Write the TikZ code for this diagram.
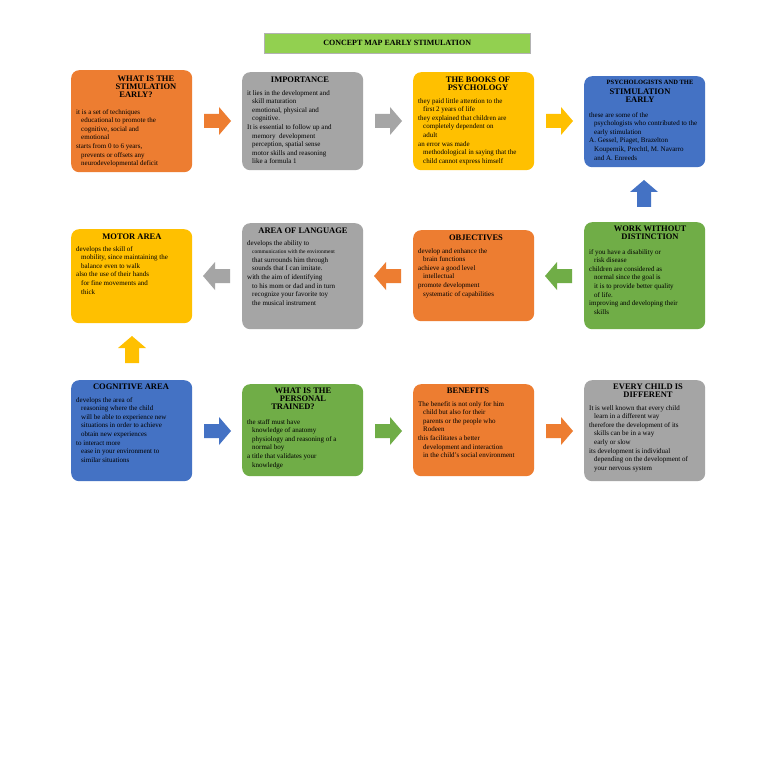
\documentclass[tikz,border=0pt]{standalone}
\usepackage{fontspec}
\setmainfont{Liberation Serif}
\definecolor{cor}{HTML}{ED7D31}
\definecolor{cgr}{HTML}{A5A5A5}
\definecolor{cye}{HTML}{FFC000}
\definecolor{cbl}{HTML}{4472C4}
\definecolor{cgn}{HTML}{70AD47}
\definecolor{ctl}{HTML}{92D050}
\newcommand\ind{\hspace*{5pt}}
\newcommand\arr[4]{\fill[#4,shift={(#1,#2)},rotate=#3] (-13,-7)--(2,-7)--(2,-14)--(14,0)--(2,14)--(2,7)--(-13,7)--cycle;}
\begin{document}
\begin{tikzpicture}[x=1pt,y=-1pt,
 box/.style={rounded corners=8pt,anchor=north west,inner sep=0pt},
 hd/.style={anchor=north,align=center,inner sep=0pt,font=\fontsize{8.5}{8}\selectfont\bfseries},
 bd/.style={anchor=north west,align=left,inner sep=0pt,font=\fontsize{7}{8.6}\selectfont}]
\useasboundingbox (0,0) rectangle (768,762);
\fill[white] (0,0) rectangle (768,762);
\node[fill=ctl,draw=gray!60,anchor=north west,minimum width=266pt,minimum height=20pt,inner sep=0pt] (title) at (264,33) {};
\node[font=\fontsize{8}{9}\selectfont\bfseries] at (title) {CONCEPT MAP EARLY STIMULATION};
% row 1
\node[box,fill=cor,minimum width=121pt,minimum height=102pt] (b1) at (71,70) {};
\node[hd] at (146,76) {WHAT IS THE\\STIMULATION\\\hspace*{-20pt}EARLY?};
\node[bd] at (76,109) {it is a set of techniques\\\ind educational to promote the\\\ind cognitive, social and\\\ind emotional\\starts from 0 to 6 years,\\\ind prevents or offsets any\\\ind neurodevelopmental deficit};
\node[box,fill=cgr,minimum width=121pt,minimum height=98pt] (b2) at (242,72) {};
\node[hd] at (300,77) {IMPORTANCE};
\node[bd] at (247,90) {it lies in the development and\\\ind skill maturation\\\ind emotional, physical and\\\ind cognitive.\\It is essential to follow up and\\\ind memory\ \ development\\\ind perception, spatial sense\\\ind motor skills and reasoning\\\ind like a formula 1};
\node[box,fill=cye,minimum width=121pt,minimum height=98pt] (b3) at (413,72) {};
\node[hd] at (478,77) {THE BOOKS OF\\PSYCHOLOGY};
\node[bd] at (418,98) {they paid little attention to the\\\ind first 2 years of life\\they explained that children are\\\ind completely dependent on\\\ind adult\\an error was made\\\ind methodological in saying that the\\\ind child cannot express himself};
\node[box,fill=cbl,minimum width=121pt,minimum height=91pt] (b4) at (584,76) {};
\node[hd,font=\fontsize{6.5}{7}\selectfont\bfseries] at (650,80) {PSYCHOLOGISTS AND THE};
\node[hd] at (640,89) {STIMULATION\\EARLY};
\node[bd] at (589,112) {these are some of the\\\ind psychologists who contributed to the\\\ind early stimulation\\A. Gessel, Piaget, Brazelton\\\ind Koupernik, Prechtl, M. Navarro\\\ind and A. Enreeds};
\arr{217}{121}{0}{cor}
\arr{388}{121}{0}{cgr}
\arr{559}{121}{0}{cye}
\arr{644}{194}{90}{cbl}
% row 2
\node[box,fill=cye,minimum width=121pt,minimum height=94pt] (m) at (71,229) {};
\node[hd] at (132,234) {MOTOR AREA};
\node[bd] at (76,246) {develops the skill of\\\ind mobility, since maintaining the\\\ind balance even to walk\\also the use of their hands\\\ind for fine movements and\\\ind thick};
\node[box,fill=cgr,minimum width=121pt,minimum height=106pt] (l) at (242,223) {};
\node[hd] at (303,228) {AREA OF LANGUAGE};
\node[bd] at (247,240) {develops the ability to\\\ind{\fontsize{5.5}{8.6}\selectfont communication with the environment}\\\ind that surrounds him through\\\ind sounds that I can imitate.\\with the aim of identifying\\\ind to his mom or dad and in turn\\\ind recognize your favorite toy\\\ind the musical instrument};
\node[box,fill=cor,minimum width=121pt,minimum height=91pt] (o) at (413,230) {};
\node[hd] at (476,235) {OBJECTIVES};
\node[bd] at (418,248) {develop and enhance the\\\ind brain functions\\achieve a good level\\\ind intellectual\\promote development\\\ind systematic of capabilities};
\node[box,fill=cgn,minimum width=121pt,minimum height=107pt] (w) at (584,222) {};
\node[hd] at (650,226) {WORK WITHOUT\\DISTINCTION};
\node[bd] at (589,249) {if you have a disability or\\\ind risk disease\\children are considered as\\\ind normal since the goal is\\\ind it is to provide better quality\\\ind of life.\\improving and developing their\\\ind skills};
\arr{217}{276}{180}{cgr}
\arr{388}{276}{180}{cor}
\arr{559}{276}{180}{cgn}
\arr{132}{350}{90}{cye}
% row 3
\node[box,fill=cbl,minimum width=121pt,minimum height=101pt] (c) at (71,380) {};
\node[hd] at (131,384) {COGNITIVE AREA};
\node[bd] at (76,397) {develops the area of\\\ind reasoning where the child\\\ind will be able to experience new\\\ind situations in order to achieve\\\ind obtain new experiences\\to interact more\\\ind ease in your environment to\\\ind similar situations};
\node[box,fill=cgn,minimum width=121pt,minimum height=92pt] (p) at (242,384) {};
\node[hd] at (303,388) {WHAT IS THE\\PERSONAL\\\hspace*{-20pt}TRAINED?};
\node[bd] at (247,419) {the staff must have\\\ind knowledge of anatomy\\\ind physiology and reasoning of a\\\ind normal boy\\a title that validates your\\\ind knowledge};
\node[box,fill=cor,minimum width=121pt,minimum height=92pt] (bn) at (413,384) {};
\node[hd] at (468,388) {BENEFITS};
\node[bd] at (418,401) {The benefit is not only for him\\\ind child but also for their\\\ind parents or the people who\\\ind Rodeen\\this facilitates a better\\\ind development and interaction\\\ind in the child's social environment};
\node[box,fill=cgr,minimum width=121pt,minimum height=101pt] (e) at (584,380) {};
\node[hd] at (648,384) {EVERY CHILD IS\\DIFFERENT};
\node[bd] at (589,405) {It is well known that every child\\\ind learn in a different way\\therefore the development of its\\\ind skills can be in a way\\\ind early or slow\\its development is individual\\\ind depending on the development of\\\ind your nervous system};
\arr{217}{431}{0}{cbl}
\arr{388}{431}{0}{cgn}
\arr{559}{431}{0}{cor}
\end{tikzpicture}
\end{document}
